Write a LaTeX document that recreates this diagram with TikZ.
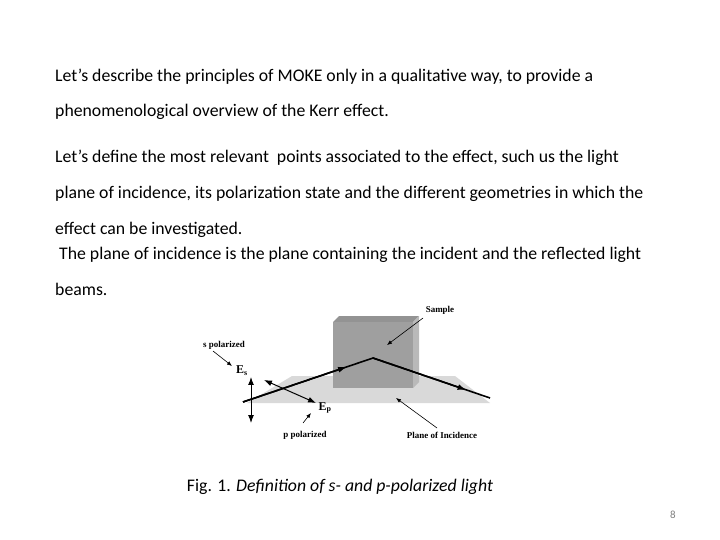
\documentclass[tikz,border=0pt]{standalone}
\usepackage{fontspec}
\setmainfont{Carlito}
\newfontfamily\figfont{Liberation Serif}
\usetikzlibrary{calc,arrows.meta}
\begin{document}
\begin{tikzpicture}[x=1bp,y=-1bp,
  txt/.style={anchor=west,inner sep=0,font=\fontsize{17.8}{20}\selectfont},
  lab/.style={inner sep=0,font=\figfont\bfseries\fontsize{9}{10}\selectfont},
  beam/.style={line width=1.6pt},
  ptr/.style={-{Latex[length=5pt,width=4pt]},line width=0.6pt},
  big/.style={{Latex[length=8pt,width=6pt]}-{Latex[length=8pt,width=6pt]},line width=1pt}]
\useasboundingbox (0,0) rectangle (720,540);
\node[txt] (t1) at (55,77) {Let’s describe the principles of MOKE only in a qualitative way, to provide a};
\node[txt] (t2) at (55,112) {phenomenological overview of the Kerr effect.};
\node[txt] (t3) at (55,158) {Let’s define the most relevant\ \ points associated to the effect, such us the light};
\node[txt] (t4) at (55,194) {plane of incidence, its polarization state and the different geometries in which the};
\node[txt] (t5) at (55,230) {effect can be investigated.};
\node[txt] (t6) at (55,255) {\ The plane of incidence is the plane containing the incident and the reflected light};
\node[txt] (t7) at (55,289) {beams.};
% plane
\fill[gray!30] (247,403) -- (490,403) -- (455,376) -- (292,376) -- cycle;
% sample box
\fill[gray!85] (333,322) -- (339,316) -- (419,316) -- (413,322) -- cycle;
\fill[gray!55] (413,322) -- (419,316) -- (419,382) -- (413,388) -- cycle;
\fill[gray!75] (333,322) rectangle (413,388);
% beam
\coordinate (b0) at (243,402);
\coordinate (apex) at (373,358);
\coordinate (b1) at (490,398);
\draw[beam] (b0) -- (apex) -- (b1);
\draw[-{Latex[length=9pt,width=6pt]},line width=1.6pt] (b0) -- ($(b0)!0.8!(apex)$);
\draw[-{Latex[length=9pt,width=6pt]},line width=1.6pt] (apex) -- ($(apex)!0.8!(b1)$);
% polarization arrows
\coordinate (es1) at (251,377); \coordinate (es2) at (251,423);
\draw[big] (es1) -- (es2);
\coordinate (ep1) at (264,380); \coordinate (ep2) at (316,403);
\draw[big] (ep1) -- (ep2);
% labels
\node[lab,font=\figfont\bfseries\fontsize{12}{13}\selectfont] (es) at (242,371) {E\textsubscript{s}};
\node[lab,font=\figfont\bfseries\fontsize{12}{13}\selectfont] (ep) at (325,408) {E\textsubscript{p}};
\node[lab] (sp) at (224,345) {s polarized};
\node[lab] (pp) at (305,435) {p polarized};
\node[lab] (sm) at (440,310) {Sample};
\node[lab] (pi) at (442,435) {Plane of Incidence};
\draw[ptr] (213,351) -- (232,366);
\draw[ptr] (303,423) -- (311,413);
\draw[ptr] (423,318) -- (387,345);
\draw[ptr] (437,428) -- (396,398);
% caption
\node[txt,anchor=center] (cap) at (340,487) {Fig. 1. \textit{Definition of s- and p-polarized light}};
\node[inner sep=0,font=\fontsize{11}{12}\selectfont,text=gray] (pg) at (673,515) {8};
\end{tikzpicture}
\end{document}
